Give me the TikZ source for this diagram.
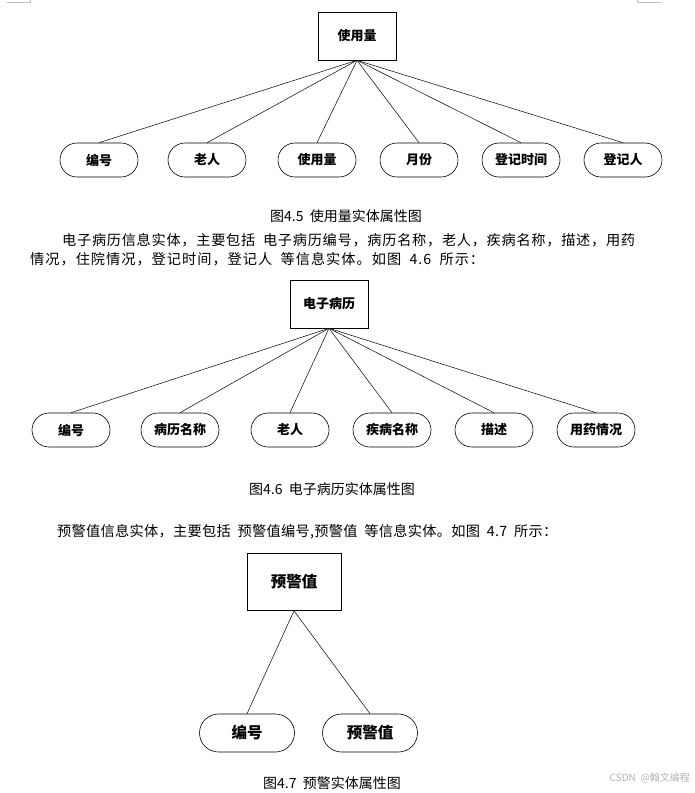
\documentclass[tikz,border=0pt]{standalone}
\usepackage{fontspec}
\setmainfont[WordSpace=2]{Noto Sans CJK SC}
\tikzset{
  entity/.style={draw, line width=0.6pt, minimum width=78pt, minimum height=48pt,
    inner sep=0pt, font=\bfseries\fontsize{13}{15}\selectfont},
  attr/.style={draw, line width=0.6pt, rounded corners=17pt, minimum width=78pt,
    minimum height=34pt, inner sep=0pt, font=\bfseries\fontsize{13}{15}\selectfont},
  bigattr/.style={attr, minimum width=95pt, minimum height=38pt, rounded corners=19pt,
    font=\bfseries\fontsize{15.5}{17}\selectfont},
  link/.style={line width=0.5pt},
  body/.style={anchor=west, inner sep=0pt, font=\fontsize{14.2}{16}\selectfont\addfontfeature{LetterSpace=#1}},
  body/.default=0,
  caption/.style={inner sep=0pt, font=\fontsize{14}{16}\selectfont},
}
\begin{document}
\begin{tikzpicture}[x=1pt, y=-1pt]
  \useasboundingbox (0,0) rectangle (695,793);

  % page corner marks
  \draw[gray!50] (7,2) -- (30,2) -- (30,0);
  \draw[gray!50] (661,2) -- (637,2) -- (637,0);

  % Fig 4.5
  \begin{scope}
    \node[entity] (use) at (357,36) {使用量};
    \foreach \name/\x/\txt in {a1/99/编号, a2/207/老人, a3/317/使用量,
                               a4/419/月份, a5/521/登记时间, a6/623/登记人} {
      \node[attr] (\name) at (\x,160) {\txt};
      \draw[link] (use.south) -- (\name.north);
    }
    \node[caption] (cap1) at (346,216) {图4.5 使用量实体属性图};
  \end{scope}

  % text
  \node[body=5] (txt1) at (62,240)
    {电子病历信息实体，主要包括 电子病历编号，病历名称，老人，疾病名称，描述，用药};
  \node[body=7] (txt2) at (30,259) {情况，住院情况，登记时间，登记人 等信息实体。如图 4.6 所示：};

  % Fig 4.6
  \begin{scope}
    \node[entity] (emr) at (329,304) {电子病历};
    \foreach \name/\x/\txt in {b1/71/编号, b2/180/病历名称, b3/290/老人,
                               b4/392/疾病名称, b5/494/描述, b6/596/用药情况} {
      \node[attr] (\name) at (\x,430) {\txt};
      \draw[link] (emr.south) -- (\name.north);
    }
    \node[caption] (cap2) at (332,489) {图4.6 电子病历实体属性图};
  \end{scope}

  % text
  \node[body=2] (txt3) at (57,532) {预警值信息实体，主要包括 预警值编号,预警值 等信息实体。如图 4.7 所示：};

  % Fig 4.7
  \begin{scope}
    \node[entity, minimum width=94pt, minimum height=57pt,
          font=\bfseries\fontsize{15.5}{17}\selectfont] (warn) at (294,582) {预警值};
    \node[bigattr] (c1) at (247,733) {编号};
    \node[bigattr] (c2) at (370,733) {预警值};
    \draw[link] (warn.south) -- (c1.north);
    \draw[link] (warn.south) -- (c2.north);
    \node[caption] (cap3) at (332,783) {图4.7 预警实体属性图};
  \end{scope}

  % watermark
  \node[anchor=east, inner sep=0pt, text=gray!60, font=\fontsize{10}{12}\selectfont]
    (mark) at (690,778) {CSDN @翰文编程};
\end{tikzpicture}
\end{document}
